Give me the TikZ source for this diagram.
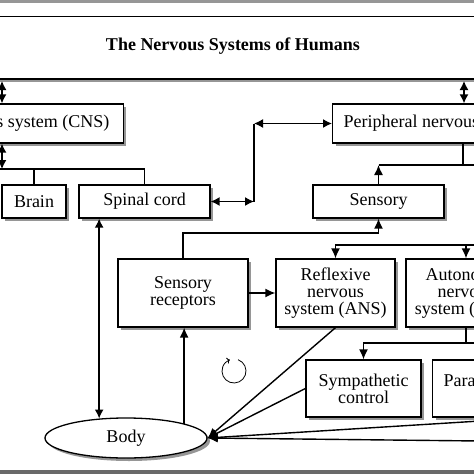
\documentclass[tikz,border=0pt]{standalone}
\usepackage{fontspec}
\setmainfont{Liberation Serif}
\usepackage{xcolor}
\definecolor{ShadowGray}{RGB}{150,150,150}
\definecolor{FrameGray}{RGB}{105,105,105}
\usepackage{tikz}
\usetikzlibrary{
  arrows.meta,
  shapes.geometric,
  shadows, calc
}
\tikzset{
  % Plain box with a grey drop shadow
  nbox/.style={
    rectangle, draw=black, line width=1.3pt,
    fill=white, align=center,
    font=\fontsize{18}{17}\selectfont,
    inner sep=2pt,
    drop shadow={shadow xshift=3pt, shadow yshift=-3pt,
      fill=ShadowGray, opacity=1}
  },
  % Body ellipse
  bodyshape/.style={
    nbox, ellipse, minimum width=162, minimum height=40, inner sep=0pt
  },
  % Title
  titletext/.style={font=\fontsize{18}{18}\selectfont\bfseries},
  % Arrows
  link/.style={line width=1.4pt},
  arr/.style={-{Latex[length=10pt,width=9pt]}, line width=1.4pt},
  dbl/.style={{Latex[length=9pt,width=9pt]}-{Latex[length=9pt,width=9pt]},
    line width=1.4pt},
}

\begin{document}
\begin{tikzpicture}[x=1pt,y=-1pt]
  \useasboundingbox (0,0) rectangle (474,474);
  \clip (0,0) rectangle (474,474);
  \fill[white] (0,0) rectangle (474,474);

  % frame lines
  \fill[ShadowGray] (0,0) rectangle (474,3);
  \draw[line width=0.8pt] (0,16) -- (474,16);
  \draw[ShadowGray, line width=1.6pt] (0,81) -- (474,81);
  \draw[line width=1.8pt] (0,79) -- (474,79);
  \fill[FrameGray] (0,469.5) rectangle (474,474);

  \node[titletext] (title) at (233,46) {The Nervous Systems of Humans};

  % boxes
  \node[nbox, anchor=east, minimum height=39, inner xsep=14pt] (cns) at (124,123.5) {Central nervous system (CNS)};
  \node[nbox, anchor=west, minimum height=39, inner xsep=11pt] (pns) at (332,123.5) {Peripheral nervous system (PNS)};
  \node[nbox, minimum width=64, minimum height=33] (brain) at (34,201.5) {Brain};
  \node[nbox, minimum width=131, minimum height=33] (spinal) at (144.5,201.5) {Spinal cord};
  \node[nbox, minimum width=131, minimum height=33] (sensory) at (378.5,201.5) {Sensory};
  \node[nbox, minimum width=130, minimum height=68] (receptors) at (183,293) {Sensory\\receptors};
  \node[nbox, minimum width=119, minimum height=68] (reflexive) at (335.5,293) {Reflexive\\nervous\\system (ANS)};
  \node[nbox, minimum width=120, minimum height=68] (autonomic) at (466,293) {Autonomic\\nervous\\system (ANS)};
  \node[nbox, minimum width=115, minimum height=57] (sympathetic) at (363.5,388.5) {Sympathetic\\control};
  \node[nbox, anchor=west, minimum height=57, inner xsep=11pt] (parasym) at (432,388.5) {Parasympathetic\\control};
  \node[bodyshape] (body) at (126,438) {Body};

  % helper points
  \coordinate (topL) at (2,81);
  \coordinate (topR) at (464,81);
  \coordinate (cnsbus) at (0,169);
  \coordinate (kink) at (254,0);
  \coordinate (pnsbus) at (474,165);
  \coordinate (sbus) at (0,233);
  \coordinate (mbus) at (474,245);
  \coordinate (abus) at (474,343);
  \coordinate (offA) at (480,421);
  \coordinate (offB) at (480,441);

  % CNS links
  \draw[dbl] (topL) -- (topL |- cns.north);
  \draw[dbl] (cns.south -| topL) -- (topL |- cnsbus);
  \draw[link] (cnsbus) -| (brain.north);
  \draw[link] (brain.north |- cnsbus) -| (spinal.north);

  % spinal cord <-> PNS
  \draw[dbl] (spinal.east) -- (spinal.east -| kink);
  \draw[link] (spinal.east -| kink) -- (pns.west -| kink);
  \draw[dbl] (pns.west -| kink) -- (pns.west);

  % PNS links
  \draw[dbl] (topR) -- (topR |- pns.north);
  \draw[link] (pns.south -| 463,0) -- (463,165);
  \draw[link] (sensory.north |- pnsbus) -- (pnsbus);
  \draw[arr] (sensory.north) -- (sensory.north |- pnsbus);
  \draw[arr] (receptors.north) |- (sensory.south |- sbus) -- (sensory.south);

  % reflex / autonomic
  \draw[arr] (mbus) -| (reflexive.north);
  \draw[arr] (autonomic.north |- mbus) -- (autonomic.north);
  \draw[arr] (receptors.east) -- (reflexive.west);
  \draw[link] (autonomic.south) -- (autonomic.south |- abus);
  \draw[arr] (abus) -| (sympathetic.north);

  % body links
  \draw[dbl] (body.144) -- (body.144 |- spinal.south);
  \draw[arr] (body.14) -- (body.14 |- receptors.south);
  \draw[arr] (reflexive.south) -- (body.east);
  \draw[arr] (sympathetic.west) -- (body.east);
  \draw[arr] (offA) -- (body.east);
  \draw[arr] (offB) -- (body.east);

  % small turn mark
  \coordinate (turn) at (234,371);
  \draw[line width=0.8pt, -{To[length=3pt]}] ($(turn)+(-70:12)$) arc (-70:250:12);
\end{tikzpicture}
\end{document}
